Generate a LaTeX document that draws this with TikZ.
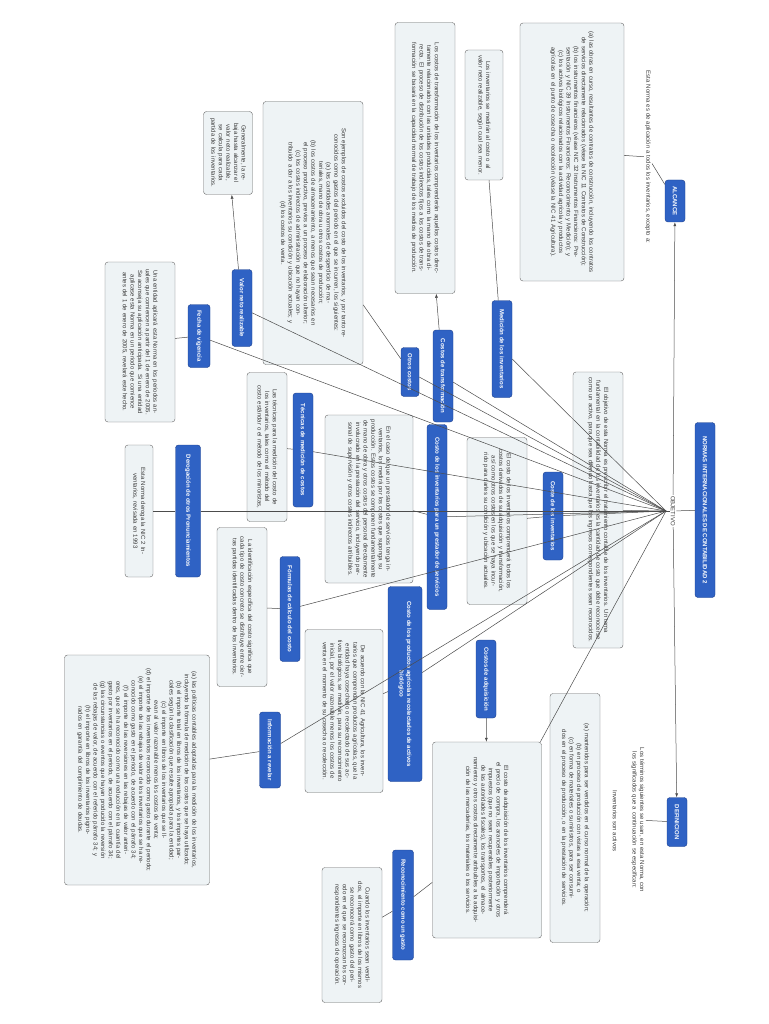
\documentclass[tikz,border=0pt]{standalone}
\usepackage{fontspec}
\setmainfont{Liberation Sans}
\usetikzlibrary{arrows.meta}
\definecolor{blueF}{HTML}{2F62C4}
\definecolor{blueD}{HTML}{1C3F8C}
\definecolor{boxF}{HTML}{EEF3F5}
\definecolor{txt}{HTML}{3A3A3A}
\newcommand{\fs}{\fontsize{6}{7.6}\selectfont}
\tikzset{
 tb/.style={draw=gray!80!black, fill=boxF, rounded corners=3pt, rotate=-90, font=\fs, text=txt, align=center, inner sep=3pt},
 bl/.style={draw=blueD, fill=blueF, rounded corners=3pt, rotate=-90, font=\fs\bfseries, text=white, align=center, inner sep=2pt, minimum height=20pt},
 lab/.style={rotate=-90, font=\fs, text=txt, align=center, inner sep=1pt},
 ln/.style={draw=gray!60!black, line width=0.5pt},
 ar/.style={ln, -{Latex[length=4pt,width=3pt]}}
}
\begin{document}
\begin{tikzpicture}[x=1pt,y=-1pt]
\useasboundingbox (0,0) rectangle (768,1024);
\node[bl, minimum width=175pt] (tit) at (705,510) {NORMAS INTERNACIONALES DE CONTABILIDAD 2};
\node[lab, fill=white] (obj) at (673,511) {OBJETIVO};
\coordinate (hub) at (666,511);
\node[bl, minimum width=42pt] (alc) at (675,201) {ALCANCE};
\node[bl, minimum width=49pt] (def) at (677,822) {DEFINICION};
\draw[ln] (tit) -- (obj);
\draw[ar] (obj) -- (alc);
\draw[ar] (obj) -- (def);
\node[lab, text width=190pt] (alcl) at (648,157) {Esta Norma es de aplicación a todos los inventarios, excepto a:};
\node[tb, text width=250pt, minimum width=258pt, minimum height=104pt] (alcb) at (572,152) {(a) las obras en curso, resultantes de contratos de construcción, incluyendo los contratos de servicios directamente relacionados (véase la NIC 11 Contratos de Construcción);\\ (b) los instrumentos financieros (véase NIC 32 Instrumentos Financieros: Presentación y NIC 39 Instrumentos Financieros: Reconocimiento y Medición); y\\ (c) los activos biológicos relacionados con la actividad agrícola y productos agrícolas en el punto de cosecha o recolección (véase la NIC 41 Agricultura).};
\draw[ln] (alc) -- (alcl);
\draw[ln] (alcl) -- (alcb);
\node[lab, text width=230pt] (defl) at (638,820) {Los términos siguientes se usan, en esta Norma, con los significados que a continuación se especifican:};
\node[lab] (inv) at (615,821) {Inventarios son activos};
\node[tb, text width=240pt, minimum width=249pt, minimum height=50pt] (defb) at (575,818) {(a) mantenidos para ser vendidos en el curso normal de la operación;\\ (b) en proceso de producción con vistas a esa venta; o\\ (c) en forma de materiales o suministros, para ser consumidos en el proceso de producción, o en la prestación de servicios.};
\draw[ln] (def) -- (defl);
\node[tb, text width=268pt, minimum width=276pt, minimum height=50pt] (objb) at (598,510) {El objetivo de esta Norma es prescribir el tratamiento contable de los inventarios. Un tema fundamental en la contabilidad de los inventarios es la cantidad de costo que debe reconocerse como un activo, para que sea diferido hasta que los ingresos correspondientes sean reconocidos.};
\node[bl, minimum width=97pt] (med) at (502,349) {Medición de los inventarios};
\node[bl, minimum width=92pt] (ctr) at (443,376) {Costos de transformación};
\node[bl, minimum width=49pt, minimum height=18pt] (otr) at (410,372) {Otros costos};
\node[bl, minimum width=77pt] (vnr) at (242,308) {Valor neto realizable};
\node[bl, minimum width=63pt, minimum height=22pt] (fec) at (199,336) {Fecha de vigencia};
\node[bl, minimum width=114pt] (tec) at (303,450) {Técnicas de medición de costos};
\node[bl, minimum width=132pt, minimum height=25pt] (der) at (188,511) {Derogación de otros Pronunciamientos};
\node[bl, minimum width=185pt] (pre) at (437,517) {Costo de los inventarios para un prestador de servicios};
\node[bl, minimum width=88pt] (cos) at (553,516) {Coste de los inventarios};
\node[bl, minimum width=195pt, minimum height=34pt] (agr) at (405,684) {Costo de los productos agrícolas recolectados de activos\\ biológico};
\node[bl, minimum width=105pt] (for) at (290,609) {Fórmulas de cálculo del costo};
\node[bl, minimum width=76pt, minimum height=21pt] (inf) at (270,750) {Información a revelar};
\node[bl, minimum width=78pt] (adq) at (486,679) {Costos de adquisición};
\node[bl, minimum width=110pt, minimum height=21pt] (rec) at (403,905) {Reconocimiento como un gasto};
\node[tb, text width=122pt, minimum width=130pt, minimum height=38pt] (medb) at (484,115) {Los inventarios se medirán al costo o al valor neto realizable, según cual sea menor.};
\node[tb, text width=263pt, minimum width=271pt, minimum height=60pt] (ctrb) at (425,158) {Los costos de transformación de los inventarios comprenderán aquellos costos directamente relacionados con las unidades producidas, tales como la mano de obra directa. El proceso de distribución de los costos indirectos fijos a los costos de transformación se basará en la capacidad normal de trabajo de los medios de producción.};
\node[tb, text width=255pt, minimum width=263pt, minimum height=100pt] (otrb) at (313,233) {Son ejemplos de costos excluidos del costo de los inventarios, y por tanto reconocidos como gastos del periodo en el que se incurren, los siguientes:\\ (a) las cantidades anormales de desperdicio de materiales, mano de obra u otros costos de producción;\\ (b) los costos de almacenamiento, a menos que sean necesarios en el proceso productivo, previos a un proceso de elaboración ulterior;\\ (c) los costos indirectos de administración que no hayan contribuido a dar a los inventarios su condición y ubicación actuales; y\\ (d) los costos de venta.};
\node[tb, text width=75pt, minimum width=83pt, minimum height=49pt] (vnrb) at (228,153) {Generalmente, la rebaja hasta alcanzar el valor neto realizable, se calcula para cada partida de los inventarios.};
\node[tb, text width=152pt, minimum width=160pt, minimum height=70pt] (fecb) at (140,342) {Una entidad aplicará esta Norma en los periodos anuales que comiencen a partir del 1 de enero de 2005. Se aconseja su aplicación anticipada. Si una entidad aplicase esta Norma en un periodo que comience antes del 1 de enero de 2005, revelará este hecho.};
\node[tb, text width=141pt, minimum width=149pt, minimum height=40pt] (tecb) at (267,447) {Las técnicas para la medición del costo de los inventarios, tales como el método del costo estándar o el método de los minoristas,};
\node[tb, text width=124pt, minimum width=132pt, minimum height=28pt] (derb) at (139,511) {Esta Norma deroga la NIC 2 Inventarios, revisada en 1993};
\node[tb, text width=160pt, minimum width=168pt, minimum height=88pt] (preb) at (369,499) {En el caso de que un prestador de servicios tenga inventarios, los medirá por los costos que suponga su producción. Estos costos se componen fundamentalmente de mano de obra y otros costos del personal directamente involucrado en la prestación del servicio, incluyendo personal de supervisión y otros costos indirectos atribuibles.};
\node[tb, text width=159pt, minimum width=167pt, minimum height=60pt] (cosb) at (497,521) {El costo de los inventarios comprenderá todos los costos derivados de su adquisición y transformación, así como otros costos en los que se haya incurrido para darles su condición y ubicación actuales.};
\node[tb, text width=155pt, minimum width=163pt, minimum height=78pt] (agrb) at (344,711) {De acuerdo con la NIC 41 Agricultura, los inventarios que comprendan productos agrícolas, que la entidad haya cosechado o recolectado de sus activos biológicos, se medirán, para su reconocimiento inicial, por el valor razonable menos los costos de venta en el momento de su cosecha o recolección.};
\node[tb, text width=151pt, minimum width=159pt, minimum height=50pt] (forb) at (242,607) {La identificación específica del costo significa que cada tipo de costo concreto se distribuye entre ciertas partidas identificadas dentro de los inventarios.};
\node[tb, text width=222pt, minimum width=230pt, minimum height=145pt] (infb) at (137,770) {(a) las políticas contables adoptadas para la medición de los inventarios, incluyendo la fórmula de medición de los costos que se haya utilizado;\\ (b) el importe total en libros de los inventarios, y los importes parciales según la clasificación que resulte apropiada para la entidad;\\ (c) el importe en libros de los inventarios que se llevan al valor razonable menos los costos de venta;\\ (d) el importe de los inventarios reconocido como gasto durante el periodo;\\ (e) el importe de las rebajas de valor de los inventarios que se ha reconocido como gasto en el periodo, de acuerdo con el párrafo 34;\\ (f) el importe de las reversiones en las rebajas de valor anteriores, que se ha reconocido como una reducción en la cuantía del gasto por inventarios en el periodo, de acuerdo con el párrafo 34;\\ (g) las circunstancias o eventos que hayan producido la reversión de las rebajas de valor, de acuerdo con el referido párrafo 34; y\\ (h) el importe en libros de los inventarios pignorados en garantía del cumplimiento de deudas.};
\node[tb, text width=188pt, minimum width=196pt, minimum height=109pt] (adqb) at (487,840) {El costo de adquisición de los inventarios comprenderá el precio de compra, los aranceles de importación y otros impuestos (que no sean recuperables posteriormente de las autoridades fiscales), los transportes, el almacenamiento y otros costos directamente atribuibles a la adquisición de las mercaderías, los materiales o los servicios.};
\node[tb, text width=127pt, minimum width=135pt, minimum height=60pt] (recb) at (352,935) {Cuando los inventarios sean vendidos, el importe en libros de los mismos se reconocerá como gasto del periodo en el que se reconozcan los correspondientes ingresos de operación.};
\foreach \n in {med,ctr,otr,vnr,fec,tec,der,pre,cos,agr,for,inf,adqb,objb}
  \draw[ln] (\n) -- (hub);
\draw[ln] (hub) -- (obj);
\draw[ln] (med) -- (medb);
\draw[ar] (ctr) -- (ctrb);
\draw[ln] (otr) -- (otrb);
\draw[ar] (vnr) -- (vnrb);
\draw[ln] (fec) -- (fecb);
\draw[ln] (tec) -- (tecb);
\draw[ln] (der) -- (derb);
\draw[ln] (pre) -- (preb);
\draw[ln] (cos) -- (cosb);
\draw[ln] (agr) -- (agrb);
\draw[ln] (for) -- (forb);
\draw[ln] (inf) -- (infb);
\draw[ar] (adq) -- (adqb);
\draw[ln] (adqb) -- (rec);
\draw[ln] (rec) -- (recb);
\end{tikzpicture}
\end{document}
